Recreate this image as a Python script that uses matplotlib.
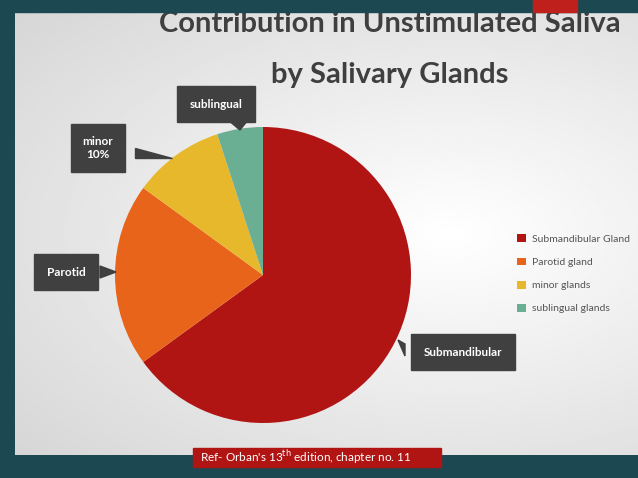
import numpy as np
import matplotlib.pyplot as plt
from matplotlib.patches import Rectangle, Polygon

plt.rcParams['font.family'] = ['Lato', 'DejaVu Sans']

# DADOS
glands = ['Submandibular Gland', 'Parotid gland', 'minor glands', 'sublingual glands']
shares = [65, 20, 10, 5]
colors = ['#b01513', '#e8641a', '#e8b82c', '#6aae94']

W, H = 638, 478
fig = plt.figure(figsize=(W / 100, H / 100), dpi=100)
ax = fig.add_axes([0, 0, 1, 1])
ax.set_xlim(0, W)
ax.set_ylim(0, H)
ax.axis('off')

def Y(y):
    return H - y

# fundo teal
ax.add_patch(Rectangle((0, 0), W, H, color='#1c4852', zorder=0))
# painel com gradiente
xx, yy = np.meshgrid(np.linspace(0, 1, 300), np.linspace(0, 1, 200))
d = np.sqrt(((xx - 0.7) / 1.0) ** 2 + ((yy - 0.5) / 0.8) ** 2)
grad = np.clip(1.0 - 0.17 * d, 0, 1)
ax.imshow(grad, cmap='gray', vmin=0, vmax=1, extent=[15, W, Y(455), Y(12)],
          aspect='auto', zorder=1)

# titulo
ax.text(390, Y(24), 'Contribution in Unstimulated Saliva', ha='center', va='center',
        fontsize=21, fontweight='bold', color='#3f3f3f', zorder=2)
ax.text(390, Y(75), 'by Salivary Glands', ha='center', va='center',
        fontsize=21, fontweight='bold', color='#3f3f3f', zorder=2)
ax.add_patch(Rectangle((0, Y(12)), W, 12, color='#1c4852', zorder=3))
ax.add_patch(Rectangle((533, Y(12)), 44, 12, color='#c0201c', zorder=4))

# pizza
wedges, _ = ax.pie(shares, colors=colors, startangle=90, counterclock=False,
                   center=(263, Y(275)), radius=148, frame=True,
                   wedgeprops=dict(zorder=5))
ax.set_xlim(0, W)
ax.set_ylim(0, H)
ax.set_aspect('auto')
ax.axis('off')

# rótulos
def callout(x, y, text, tip, pad=0.9):
    ax.text(x, Y(y), text, ha='center', va='center', fontsize=8.5, fontweight='bold',
            color='white', zorder=7, linespacing=1.3,
            bbox=dict(boxstyle=f'square,pad={pad}', facecolor='#404040', edgecolor='#404040'))
    ax.add_patch(Polygon([(px, Y(py)) for px, py in tip], closed=True,
                         color='#404040', zorder=6))

callout(216, 104, 'sublingual', [(228, 120), (248, 120), (240, 130)], pad=1.1)
callout(98, 148, 'minor\n10%', [(135, 148), (135, 158), (172, 158)], pad=1.0)
callout(66, 272, 'Parotid', [(100, 266), (100, 278), (116, 272)], pad=1.1)
callout(463, 352, 'Submandibular', [(405, 344), (405, 356), (398, 340)], pad=1.1)

# legenda
fig.legend(wedges, glands, loc='upper left', bbox_to_anchor=(508 / W, 1 - 225 / H),
           frameon=False, fontsize=7.5, labelcolor='#555555', handlelength=0.8,
           handleheight=0.8, labelspacing=1.3, handletextpad=0.6)

# referência
ax.add_patch(Rectangle((193, Y(467)), 248, 19, color='#b01513', zorder=8))
ax.text(200, Y(457.5), r"Ref- Orban's 13$^{\mathrm{th}}$ edition, chapter no. 11",
        ha='left', va='center', fontsize=8.5, color='white', zorder=9)

fig.savefig('out.png', dpi=100)
